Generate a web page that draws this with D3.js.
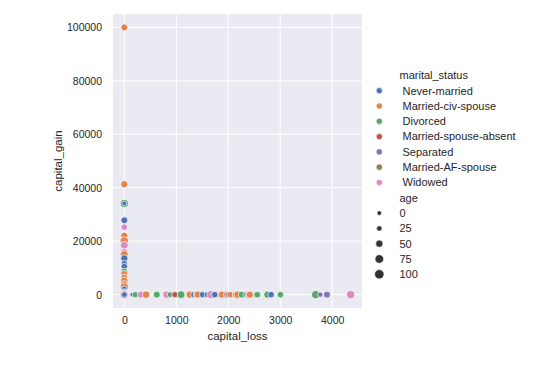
<!DOCTYPE html>
<html><head><meta charset="utf-8">
<script src="https://cdn.jsdelivr.net/npm/d3@7"></script>
<style>body{margin:0;background:#fff}svg{display:block}text{font-family:"Liberation Sans",Arial,sans-serif;fill:#262626}</style>
</head><body><svg id="c" width="540" height="368"></svg>
<script>
// ---- data ----
const categories = ["Never-married","Married-civ-spouse","Divorced","Married-spouse-absent","Separated","Married-AF-spouse","Widowed"];
const palette = ["#4C72B0","#DD8452","#55A868","#C44E52","#8172B3","#937860","#DA8BC3"];
// points on capital_loss = 0 axis
const capitalLoss = [0,0,0,0,0,0,0,0,0,0,0,0,0,0,0,0,0,0,0,0,0,0,0,0,0,
  155,213,323,419,625,810,880,974,1092,1258,1340,1408,1411,1504,1590,1668,1721,1741,1876,1977,2001,2042,2163,2179,2258,2339,2392,2400,2415,2547,2559,2754,2824,3004,3683,3770,3900,4356];
const capitalGain = [99999,41310,34095,34095,27828,25236,22040,20051,18481,15831,15024,13550,11678,10520,8614,7688,6418,5178,3908,2829,2174,1055,0,0,0,
  0,0,0,0,0,0,0,0,0,0,0,0,0,0,0,0,0,0,0,0,0,0,0,0,0,0,0,0,0,0,0,0,0,0,0,0,0,0];
const maritalStatus = ["Married-civ-spouse","Married-civ-spouse","Divorced","Never-married","Never-married","Widowed","Married-civ-spouse","Married-civ-spouse","Widowed","Widowed","Married-civ-spouse","Never-married","Never-married","Never-married","Divorced","Married-civ-spouse","Married-civ-spouse","Married-civ-spouse","Married-civ-spouse","Married-civ-spouse","Never-married","Divorced","Widowed","Married-civ-spouse","Never-married",
  "Never-married","Divorced","Widowed","Married-civ-spouse","Divorced","Widowed","Divorced","Married-spouse-absent","Divorced","Married-civ-spouse","Never-married","Married-civ-spouse","Married-civ-spouse","Never-married","Never-married","Widowed","Never-married","Never-married","Married-civ-spouse","Married-civ-spouse","Never-married","Married-civ-spouse","Married-civ-spouse","Married-civ-spouse","Divorced","Never-married","Married-civ-spouse","Never-married","Married-civ-spouse","Divorced","Divorced","Divorced","Never-married","Divorced","Divorced","Separated","Separated","Widowed"];
const age = [45,50,65,20,45,40,50,70,60,55,60,50,35,40,45,50,45,55,50,65,30,35,80,60,30,
  20,35,50,55,45,55,30,35,60,50,40,70,45,35,30,70,30,40,50,50,25,40,70,55,45,30,55,25,50,45,40,50,40,40,70,25,45,70];
const xTicks = [0,1000,2000,3000,4000];
const yTicks = [0,20000,40000,60000,80000,100000];
const sizeLegend = [0,25,50,75,100];

// ---- layout ----
const svg = d3.select("#c");
const L=113,R=362,T=14,B=308;
const pad = (e)=>{const d=(e[1]-e[0])*0.05;return [e[0]-d,e[1]+d];};
const x = d3.scaleLinear().domain(pad(d3.extent(capitalLoss))).range([L,R]);
const y = d3.scaleLinear().domain(pad(d3.extent(capitalGain))).range([B,T]);
const color = d3.scaleOrdinal().domain(categories).range(palette);
const area = d3.scaleLinear().domain([17,90]).range([2.3*2.3,4.7*4.7]).clamp(true);
const rad = a=>Math.sqrt(area(a));

svg.append("rect").attr("x",L).attr("y",T).attr("width",R-L).attr("height",B-T).attr("fill","#EAEAF2");
const g = svg.append("g");
g.selectAll(".gx").data(xTicks).join("line").attr("x1",d=>x(d)).attr("x2",d=>x(d)).attr("y1",T).attr("y2",B).attr("stroke","#fff").attr("stroke-width",1);
g.selectAll(".gy").data(yTicks).join("line").attr("y1",d=>y(d)).attr("y2",d=>y(d)).attr("x1",L).attr("x2",R).attr("stroke","#fff").attr("stroke-width",1);

// axes via d3.axis with no domain/ticks lines
const ax = svg.append("g").attr("transform",`translate(0,${B})`).call(d3.axisBottom(x).tickValues(xTicks).tickSize(0).tickPadding(9).tickFormat(d3.format("d")));
const ay = svg.append("g").attr("transform",`translate(${L},0)`).call(d3.axisLeft(y).tickValues(yTicks).tickSize(0).tickPadding(11).tickFormat(d3.format("d")));
[ax,ay].forEach(a=>{a.select(".domain").remove();a.selectAll("text").attr("font-size","10.5px").attr("font-family",'"Liberation Sans",Arial,sans-serif').attr("fill","#262626");});

const pts = capitalLoss.map((v,i)=>({x:v,y:capitalGain[i],s:maritalStatus[i],a:age[i]}));
svg.append("g").selectAll("circle").data(pts).join("circle")
  .attr("cx",d=>x(d.x)).attr("cy",d=>y(d.y)).attr("r",d=>rad(d.a))
  .attr("fill",d=>color(d.s)).attr("stroke","#fff").attr("stroke-width",0.7);

svg.append("text").attr("x",(L+R)/2).attr("y",340).attr("text-anchor","middle").attr("font-size","11.5px").text("capital_loss");
svg.append("text").attr("transform",`translate(62,${(T+B)/2}) rotate(-90)`).attr("text-anchor","middle").attr("font-size","11.5px").text("capital_gain");

// legend
const lg = svg.append("g");
const row0 = 75.4, dy = 15.3;
lg.append("text").attr("x",399.5).attr("y",row0+3.8).attr("font-size","11px").text("marital_status");
categories.forEach((c,i)=>{
  const cy=row0+dy*(i+1);
  lg.append("circle").attr("cx",379.3).attr("cy",cy).attr("r",3.1).attr("fill",color(c)).attr("stroke","#fff").attr("stroke-width",0.6);
  lg.append("text").attr("x",402.5).attr("y",cy+3.8).attr("font-size","11px").text(c);
});
const row1 = row0+dy*8;
lg.append("text").attr("x",399.5).attr("y",row1+3.8).attr("font-size","11px").text("age");
sizeLegend.forEach((s,i)=>{
  const cy=row1+dy*(i+1);
  lg.append("circle").attr("cx",379.3).attr("cy",cy).attr("r",rad(s)).attr("fill","#333").attr("stroke","#fff").attr("stroke-width",0.6);
  lg.append("text").attr("x",399.5).attr("y",cy+3.8).attr("font-size","11px").text(s);
});
</script></body></html>
